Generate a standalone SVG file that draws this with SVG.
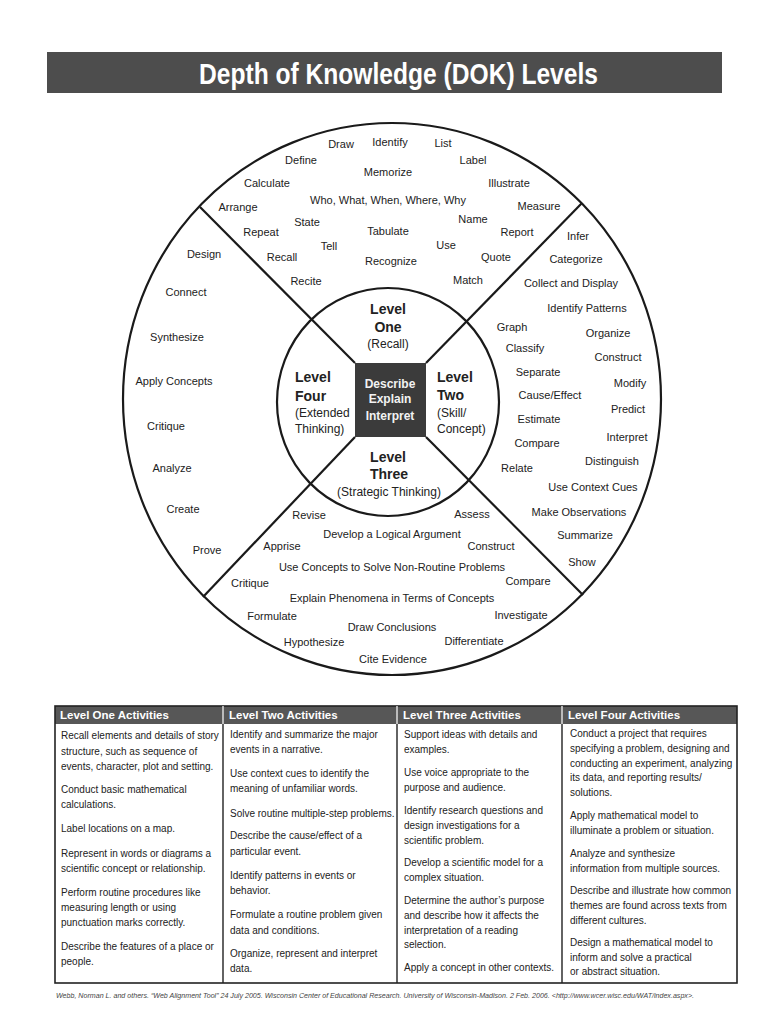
<svg xmlns="http://www.w3.org/2000/svg" width="768" height="1024" viewBox="0 0 768 1024">
<style>
text{font-family:"Liberation Sans",Arial,sans-serif;fill:#222}
.w{font-size:11px;text-anchor:middle}
.lv{font-size:14px;font-weight:bold}
.sb{font-size:12px}
.m{text-anchor:middle}
.ct{font-size:12px;font-weight:bold;fill:#f2f2f2;text-anchor:middle}
.tb{font-size:10px}
.th{font-size:11.5px;font-weight:bold;fill:#fff}
.ln{stroke:#1a1a1a;stroke-width:2.2;fill:none}
</style>
<rect width="768" height="1024" fill="#fff"/>
<g id="title">
<rect x="47" y="52" width="675" height="41" fill="#4d4d4d"/>
<text x="199" y="84" font-size="29" font-weight="bold" style="fill:#fff" textLength="399" lengthAdjust="spacingAndGlyphs">Depth of Knowledge (DOK) Levels</text>
</g>
<g id="dividers">
<ellipse cx="392" cy="399" rx="269" ry="276" class="ln" stroke-width="2.6"/>
<line x1="200" y1="207" x2="355" y2="363" class="ln"/>
<line x1="582" y1="203" x2="426" y2="363" class="ln"/>
<line x1="203" y1="597" x2="355" y2="437" class="ln"/>
<line x1="583" y1="595" x2="426" y2="437" class="ln"/>
<ellipse cx="388" cy="402" rx="111" ry="114" class="ln" stroke-width="3.2"/>
</g>
<g id="center">
<rect x="355" y="363" width="71" height="74" fill="#3b3b3b"/>
<text class="ct" x="390" y="388">Describe</text>
<text class="ct" x="390" y="403">Explain</text>
<text class="ct" x="390" y="420">Interpret</text>
</g>
<g id="level-one">
<text class="lv m" x="388" y="314">Level</text>
<text class="lv m" x="388" y="332">One</text>
<text class="sb m" x="388" y="348">(Recall)</text>
<text class="w" x="341" y="148">Draw</text>
<text class="w" x="390" y="146">Identify</text>
<text class="w" x="443" y="147">List</text>
<text class="w" x="301" y="164">Define</text>
<text class="w" x="473" y="164">Label</text>
<text class="w" x="388" y="176">Memorize</text>
<text class="w" x="267" y="187">Calculate</text>
<text class="w" x="509" y="187">Illustrate</text>
<text class="w" x="388" y="204">Who, What, When, Where, Why</text>
<text class="w" x="238" y="211">Arrange</text>
<text class="w" x="539" y="210">Measure</text>
<text class="w" x="307" y="226">State</text>
<text class="w" x="473" y="223">Name</text>
<text class="w" x="261" y="236">Repeat</text>
<text class="w" x="388" y="235">Tabulate</text>
<text class="w" x="517" y="236">Report</text>
<text class="w" x="329" y="250">Tell</text>
<text class="w" x="446" y="249">Use</text>
<text class="w" x="282" y="261">Recall</text>
<text class="w" x="391" y="265">Recognize</text>
<text class="w" x="496" y="261">Quote</text>
<text class="w" x="306" y="285">Recite</text>
<text class="w" x="468" y="284">Match</text>
</g>
<g id="level-two">
<text class="lv" x="437" y="382">Level</text>
<text class="lv" x="437" y="400">Two</text>
<text class="sb" x="437" y="417">(Skill/</text>
<text class="sb" x="437" y="433">Concept)</text>
<text class="w" x="578" y="240">Infer</text>
<text class="w" x="576" y="263">Categorize</text>
<text class="w" x="571" y="287">Collect and Display</text>
<text class="w" x="587" y="312">Identify Patterns</text>
<text class="w" x="512" y="331">Graph</text>
<text class="w" x="608" y="337">Organize</text>
<text class="w" x="525" y="352">Classify</text>
<text class="w" x="618" y="361">Construct</text>
<text class="w" x="538" y="376">Separate</text>
<text class="w" x="630" y="387">Modify</text>
<text class="w" x="550" y="399">Cause/Effect</text>
<text class="w" x="628" y="413">Predict</text>
<text class="w" x="539" y="423">Estimate</text>
<text class="w" x="627" y="441">Interpret</text>
<text class="w" x="537" y="447">Compare</text>
<text class="w" x="612" y="465">Distinguish</text>
<text class="w" x="517" y="472">Relate</text>
<text class="w" x="593" y="491">Use Context Cues</text>
<text class="w" x="579" y="516">Make Observations</text>
<text class="w" x="585" y="539">Summarize</text>
<text class="w" x="582" y="566">Show</text>
</g>
<g id="level-three">
<text class="lv m" x="388" y="462">Level</text>
<text class="lv m" x="389" y="479">Three</text>
<text class="sb m" x="389" y="496">(Strategic Thinking)</text>
<text class="w" x="309" y="519">Revise</text>
<text class="w" x="472" y="518">Assess</text>
<text class="w" x="392" y="538">Develop a Logical Argument</text>
<text class="w" x="282" y="550">Apprise</text>
<text class="w" x="491" y="550">Construct</text>
<text class="w" x="392" y="571">Use Concepts to Solve Non-Routine Problems</text>
<text class="w" x="250" y="587">Critique</text>
<text class="w" x="528" y="585">Compare</text>
<text class="w" x="392" y="602">Explain Phenomena in Terms of Concepts</text>
<text class="w" x="272" y="620">Formulate</text>
<text class="w" x="521" y="619">Investigate</text>
<text class="w" x="392" y="631">Draw Conclusions</text>
<text class="w" x="314" y="646">Hypothesize</text>
<text class="w" x="474" y="645">Differentiate</text>
<text class="w" x="393" y="663">Cite Evidence</text>
</g>
<g id="level-four">
<text class="lv" x="295" y="382">Level</text>
<text class="lv" x="295" y="401">Four</text>
<text class="sb" x="295" y="417">(Extended</text>
<text class="sb" x="295" y="433">Thinking)</text>
<text class="w" x="204" y="258">Design</text>
<text class="w" x="186" y="296">Connect</text>
<text class="w" x="177" y="341">Synthesize</text>
<text class="w" x="174" y="385">Apply Concepts</text>
<text class="w" x="166" y="430">Critique</text>
<text class="w" x="172" y="472">Analyze</text>
<text class="w" x="183" y="513">Create</text>
<text class="w" x="207" y="554">Prove</text>
</g>
<g id="table">
<rect x="55" y="706" width="682" height="18" fill="#575757"/>
<rect x="55" y="706" width="682" height="277" fill="none" stroke="#222" stroke-width="1.6"/>
<line x1="223" y1="706" x2="223" y2="724" stroke="#ddd" stroke-width="1.5"/>
<line x1="397" y1="706" x2="397" y2="724" stroke="#ddd" stroke-width="1.5"/>
<line x1="562" y1="706" x2="562" y2="724" stroke="#ddd" stroke-width="1.5"/>
<line x1="223" y1="724" x2="223" y2="983" stroke="#222" stroke-width="1.4"/>
<line x1="397" y1="724" x2="397" y2="983" stroke="#222" stroke-width="1.4"/>
<line x1="562" y1="724" x2="562" y2="983" stroke="#222" stroke-width="1.4"/>
</g>
<g id="col-level-one">
<text class="th" x="60" y="719">Level One Activities</text>
<text class="tb" x="61" y="739">Recall elements and details of story</text>
<text class="tb" x="61" y="755">structure, such as sequence of</text>
<text class="tb" x="61" y="770">events, character, plot and setting.</text>
<text class="tb" x="61" y="793">Conduct basic mathematical</text>
<text class="tb" x="61" y="808">calculations.</text>
<text class="tb" x="61" y="832">Label locations on a map.</text>
<text class="tb" x="61" y="857">Represent in words or diagrams a</text>
<text class="tb" x="61" y="872">scientific concept or relationship.</text>
<text class="tb" x="61" y="896">Perform routine procedures like</text>
<text class="tb" x="61" y="911">measuring length or using</text>
<text class="tb" x="61" y="926">punctuation marks correctly.</text>
<text class="tb" x="61" y="950">Describe the features of a place or</text>
<text class="tb" x="61" y="965">people.</text>
</g>
<g id="col-level-two">
<text class="th" x="229" y="719">Level Two Activities</text>
<text class="tb" x="230" y="738">Identify and summarize the major</text>
<text class="tb" x="230" y="753">events in a narrative.</text>
<text class="tb" x="230" y="777">Use context cues to identify the</text>
<text class="tb" x="230" y="792">meaning of unfamiliar words.</text>
<text class="tb" x="230" y="817">Solve routine multiple-step problems.</text>
<text class="tb" x="230" y="839">Describe the cause/effect of a</text>
<text class="tb" x="230" y="855">particular event.</text>
<text class="tb" x="230" y="879">Identify patterns in events or</text>
<text class="tb" x="230" y="894">behavior.</text>
<text class="tb" x="230" y="918">Formulate a routine problem given</text>
<text class="tb" x="230" y="934">data and conditions.</text>
<text class="tb" x="230" y="957">Organize, represent and interpret</text>
<text class="tb" x="230" y="972">data.</text>
</g>
<g id="col-level-three">
<text class="th" x="403" y="719">Level Three Activities</text>
<text class="tb" x="404" y="738">Support ideas with details and</text>
<text class="tb" x="404" y="753">examples.</text>
<text class="tb" x="404" y="776">Use voice appropriate to the</text>
<text class="tb" x="404" y="791">purpose and audience.</text>
<text class="tb" x="404" y="814">Identify research questions and</text>
<text class="tb" x="404" y="829">design investigations for a</text>
<text class="tb" x="404" y="844">scientific problem.</text>
<text class="tb" x="404" y="866">Develop a scientific model for a</text>
<text class="tb" x="404" y="881">complex situation.</text>
<text class="tb" x="404" y="904">Determine the author’s purpose</text>
<text class="tb" x="404" y="919">and describe how it affects the</text>
<text class="tb" x="404" y="934">interpretation of a reading</text>
<text class="tb" x="404" y="948">selection.</text>
<text class="tb" x="404" y="971">Apply a concept in other contexts.</text>
</g>
<g id="col-level-four">
<text class="th" x="568" y="719">Level Four Activities</text>
<text class="tb" x="570" y="737">Conduct a project that requires</text>
<text class="tb" x="570" y="752">specifying a problem, designing and</text>
<text class="tb" x="570" y="767">conducting an experiment, analyzing</text>
<text class="tb" x="570" y="781">its data, and reporting results/</text>
<text class="tb" x="570" y="796">solutions.</text>
<text class="tb" x="570" y="819">Apply mathematical model to</text>
<text class="tb" x="570" y="834">illuminate a problem or situation.</text>
<text class="tb" x="570" y="857">Analyze and synthesize</text>
<text class="tb" x="570" y="872">information from multiple sources.</text>
<text class="tb" x="570" y="894">Describe and illustrate how common</text>
<text class="tb" x="570" y="909">themes are found across texts from</text>
<text class="tb" x="570" y="924">different cultures.</text>
<text class="tb" x="570" y="946">Design a mathematical model to</text>
<text class="tb" x="570" y="961">inform and solve a practical</text>
<text class="tb" x="570" y="975">or abstract situation.</text>
</g>
<g id="footer">
<text x="56" y="998" font-size="7" font-style="italic" style="fill:#444" textLength="638" lengthAdjust="spacingAndGlyphs">Webb, Norman L. and others. “Web Alignment Tool” 24 July 2005. Wisconsin Center of Educational Research. University of Wisconsin-Madison. 2 Feb. 2006. &lt;http://www.wcer.wisc.edu/WAT/index.aspx&gt;.</text>
</g>
</svg>
